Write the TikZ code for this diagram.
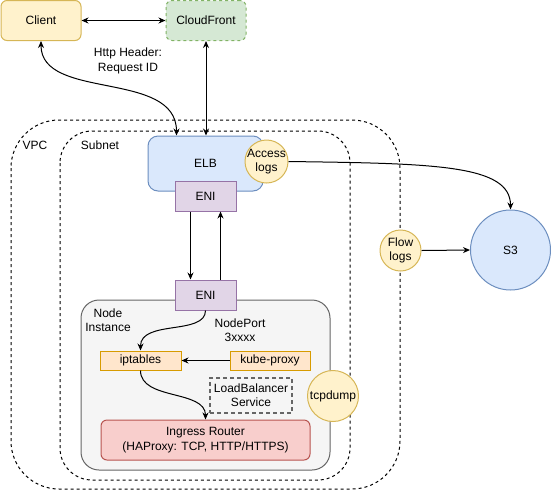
\documentclass[tikz,border=0pt]{standalone}
\usepackage{fontspec}
\setmainfont{Liberation Sans}
\usetikzlibrary{arrows.meta}
\definecolor{yelfill}{HTML}{FFF2CC}\definecolor{yelline}{HTML}{D6B656}
\definecolor{grnfill}{HTML}{D5E8D4}\definecolor{grnline}{HTML}{82B366}
\definecolor{bluefill}{HTML}{DAE8FC}\definecolor{blueline}{HTML}{6C8EBF}
\definecolor{purfill}{HTML}{E1D5E7}\definecolor{purline}{HTML}{9673A6}
\definecolor{orgfill}{HTML}{FFE6CC}\definecolor{orgline}{HTML}{D79B00}
\definecolor{redfill}{HTML}{F8CECC}\definecolor{redline}{HTML}{B85450}
\definecolor{grayfill}{HTML}{F5F5F5}\definecolor{grayline}{HTML}{666666}
\begin{document}
\begin{tikzpicture}[x=1pt,y=-1pt,line width=1pt,
  font=\fontsize{12}{14.4}\selectfont,
  box/.style={draw,rounded corners=6pt,inner sep=0pt,align=center},
  plain/.style={draw,inner sep=0pt,align=center},
  bubble/.style={draw=yelline,fill=yelfill,circle,inner sep=-6pt,align=center},
  dashline/.style={dash pattern=on 3pt off 3pt},
  tip/.style={-{Stealth[length=7pt,width=6pt]}},
  tips/.style={{Stealth[length=7pt,width=6pt]}-{Stealth[length=7pt,width=6pt]}}]
  \useasboundingbox (0,0) rectangle (551,491);
  \draw[dashline,rounded corners=48pt] (11,120) rectangle (400,489);
  \draw[dashline,rounded corners=32pt] (60,131) rectangle (350,480);
  \draw[draw=grayline,fill=grayfill,rounded corners=18pt] (81,300) rectangle (330,470);
  \node at (35,145) {VPC};
  \node at (100,145) {Subnet};
  \node[align=center] at (108,320) {Node\\Instance};
  \node[align=center] at (128,61) {Http Header:\\Request ID};
  \node[align=center] at (240,330) {NodePort\\3xxxx};

  \node[box,draw=yelline,fill=yelfill,minimum width=80pt,minimum height=40pt] (client) at (41,20.5) {Client};
  \node[box,draw=grnline,fill=grnfill,dashline,minimum width=80pt,minimum height=40pt] (cloudfront) at (206,20.5) {CloudFront};
  \node[box,draw=blueline,fill=bluefill,rounded corners=10pt,minimum width=115pt,minimum height=55pt] (elb) at (205.5,163.5) {};
  \node at (205.5,163) {ELB};
  \node[plain,draw=purline,fill=purfill,minimum width=61pt,minimum height=30pt] (enitop) at (205.5,196) {ENI};
  \node[plain,draw=purline,fill=purfill,minimum width=61pt,minimum height=30pt] (enibot) at (205.5,295) {ENI};
  \node[bubble,minimum size=43pt] (access) at (266.5,161.5) {Access\\logs};
  \node[bubble,minimum size=41pt] (flow) at (400.5,250.5) {Flow\\logs};
  \node[bubble,minimum size=51pt] (tcpdump) at (333,396) {tcpdump};
  \node[draw=blueline,fill=bluefill,circle,minimum size=80pt] (s3) at (510.5,250) {S3};
  \node[plain,draw=orgline,fill=orgfill,minimum width=81pt,minimum height=19pt] (iptables) at (140.5,360.5) {iptables};
  \node[plain,draw=orgline,fill=orgfill,minimum width=80pt,minimum height=19pt] (kube) at (270,360.5) {kube-proxy};
  \node[plain,draw=grayline,line width=1.3pt,dash pattern=on 4pt off 3pt,minimum width=82pt,minimum height=35pt] (lbsvc) at (251,395.5) {LoadBalancer\\Service};
  \node[box,draw=redline,fill=redfill,minimum width=209pt,minimum height=40pt] (ingress) at (205.5,440) {Ingress Router\\(HAProxy: TCP, HTTP/HTTPS)};

  \draw[tips] (client.east) -- (cloudfront.west);
  \draw[tips] (client.south) .. controls +(0,60) and +(0,-66) .. ([xshift=29pt]elb.north west);
  \draw[tips] (cloudfront.south) -- (cloudfront.south |- elb.north);
  \draw[tip] ([xshift=-15pt]enitop.south) -- ([xshift=-15pt]enibot.north);
  \draw[tip] ([xshift=15pt]enibot.north) -- ([xshift=15pt]enitop.south);
  \draw[tip] (enibot.south) .. controls +(0,25) and +(0,-31) .. (iptables.north);
  \draw[tip] (kube.west) -- (iptables.east);
  \draw[tip] (iptables.south) .. controls +(0,30) and +(0,-30) .. (ingress.north);
  \draw[tip] (access.east) .. controls +(145,2) and +(0,-45) .. (s3.north);
  \draw[tip] (flow.east) -- (s3.west);
\end{tikzpicture}
\end{document}
